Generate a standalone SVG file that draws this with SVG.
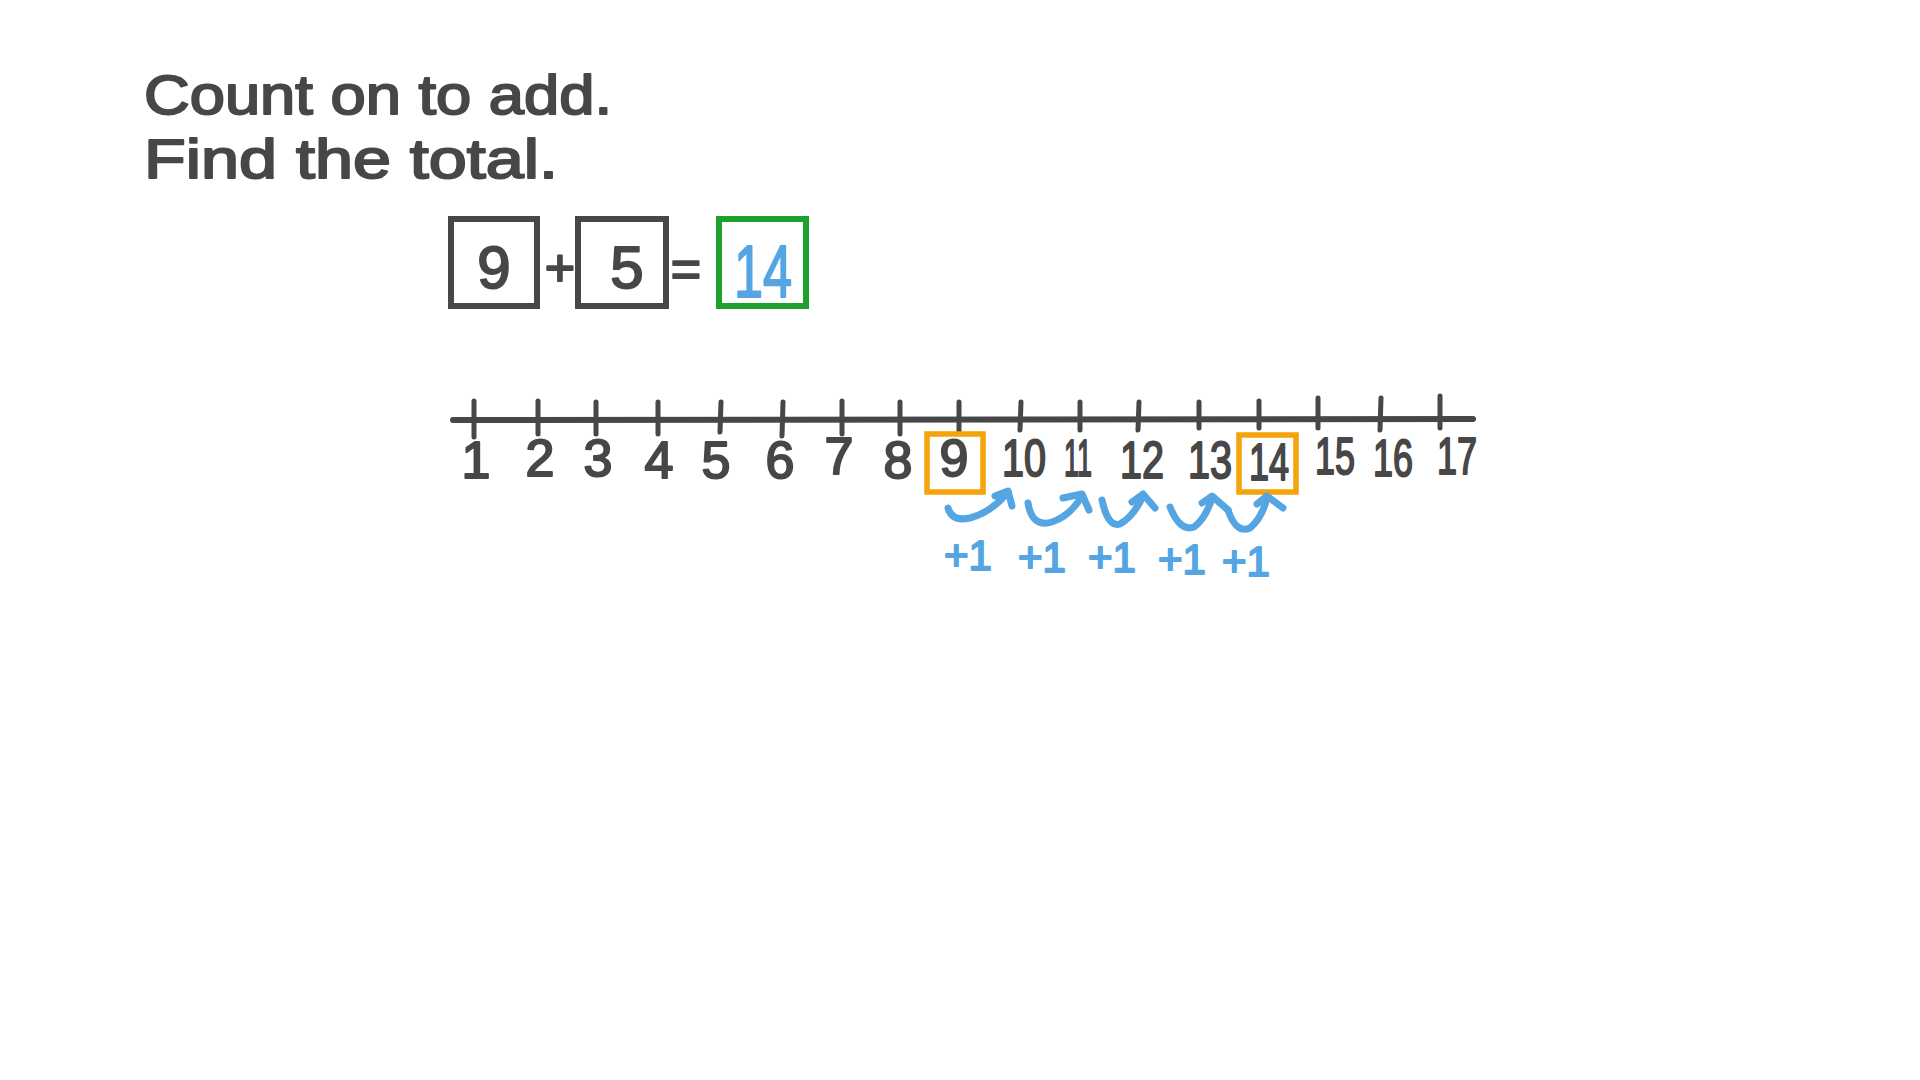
<svg xmlns="http://www.w3.org/2000/svg" width="1920" height="1080" viewBox="0 0 1920 1080">
<style>
.ink{font-family:"Liberation Sans","DejaVu Sans",sans-serif;fill:#474747;stroke:#474747;stroke-width:2;stroke-linejoin:round}
.blue{font-family:"Liberation Sans","DejaVu Sans",sans-serif;fill:#55a5e3;stroke:#55a5e3;stroke-width:2;stroke-linejoin:round}
.box{fill:none;stroke:#474747;stroke-width:6}
.obox{fill:none;stroke:#f5a30a;stroke-width:5.5}
.tick{stroke:#474747;stroke-width:5;stroke-linecap:round}
.arc{fill:none;stroke:#55a5e3;stroke-width:7;stroke-linecap:round;stroke-linejoin:round}
.num{font-size:52px;text-anchor:middle}
</style>
<rect width="1920" height="1080" fill="#ffffff"/>
<g id="title">
<text class="ink" x="144" y="114" font-size="56" textLength="468" lengthAdjust="spacingAndGlyphs">Count on to add.</text>
<text class="ink" x="144" y="178" font-size="56" textLength="414" lengthAdjust="spacingAndGlyphs">Find the total.</text>
</g>
<g id="equation">
<rect class="box" x="451" y="219" width="86" height="87"/>
<text class="ink" x="494" y="288" font-size="60" text-anchor="middle">9</text>
<text class="ink" x="560" y="286" font-size="52" text-anchor="middle">+</text>
<rect class="box" x="578" y="219" width="88" height="87"/>
<text class="ink" x="627" y="288" font-size="60" text-anchor="middle">5</text>
<text class="ink" x="686" y="287" font-size="52" text-anchor="middle">=</text>
<rect x="719" y="219" width="87" height="87" fill="none" stroke="#1ea02d" stroke-width="6"/>
<text class="blue" x="763" y="297" font-size="74" text-anchor="middle" textLength="58" lengthAdjust="spacingAndGlyphs">14</text>
</g>
<g id="number-line">
<line x1="453" y1="420" x2="1473" y2="419" stroke="#474747" stroke-width="6" stroke-linecap="round"/>
<g>
<line class="tick" x1="474" y1="401" x2="474" y2="437"/>
<line class="tick" x1="538" y1="401" x2="538" y2="434"/>
<line class="tick" x1="596" y1="402" x2="596" y2="434"/>
<line class="tick" x1="658" y1="402" x2="658" y2="434"/>
<line class="tick" x1="721" y1="402" x2="720" y2="432"/>
<line class="tick" x1="783" y1="402" x2="782" y2="436"/>
<line class="tick" x1="842" y1="401" x2="842" y2="434"/>
<line class="tick" x1="900" y1="402" x2="900" y2="434"/>
<line class="tick" x1="959" y1="402" x2="959" y2="432"/>
<line class="tick" x1="1021" y1="402" x2="1020" y2="430"/>
<line class="tick" x1="1080" y1="402" x2="1080" y2="430"/>
<line class="tick" x1="1139" y1="402" x2="1138" y2="430"/>
<line class="tick" x1="1199" y1="402" x2="1199" y2="428"/>
<line class="tick" x1="1259" y1="401" x2="1259" y2="428"/>
<line class="tick" x1="1318" y1="398" x2="1318" y2="428"/>
<line class="tick" x1="1381" y1="398" x2="1380" y2="430"/>
<line class="tick" x1="1440" y1="396" x2="1440" y2="428"/>
</g>
<g>
<text class="ink num" x="476" y="478">1</text>
<text class="ink num" x="540" y="476">2</text>
<text class="ink num" x="598" y="476">3</text>
<text class="ink num" x="659" y="478">4</text>
<text class="ink num" x="716" y="478">5</text>
<text class="ink num" x="780" y="478">6</text>
<text class="ink num" x="839" y="474">7</text>
<text class="ink num" x="898" y="478">8</text>
<text class="ink num" x="954" y="476">9</text>
<text class="ink num" x="1024" y="476" textLength="44" lengthAdjust="spacingAndGlyphs">10</text>
<text class="ink num" x="1078" y="476" textLength="28" lengthAdjust="spacingAndGlyphs">11</text>
<text class="ink num" x="1142" y="478" textLength="44" lengthAdjust="spacingAndGlyphs">12</text>
<text class="ink num" x="1210" y="478" textLength="44" lengthAdjust="spacingAndGlyphs">13</text>
<text class="ink num" x="1269" y="480" textLength="40" lengthAdjust="spacingAndGlyphs">14</text>
<text class="ink num" x="1335" y="474" textLength="40" lengthAdjust="spacingAndGlyphs">15</text>
<text class="ink num" x="1393" y="476" textLength="40" lengthAdjust="spacingAndGlyphs">16</text>
<text class="ink num" x="1457" y="474" textLength="40" lengthAdjust="spacingAndGlyphs">17</text>
</g>
</g>
<g id="highlight-9"><rect class="obox" x="927" y="434" width="56" height="58"/></g>
<g id="highlight-14"><rect class="obox" x="1239" y="435" width="57" height="57"/></g>
<g id="connectors">
<path class="arc" d="M948,508 Q952,522 970,518 Q992,512 1008,492"/>
<path class="arc" d="M995,496 L1008,491 L1012,506"/>
<path class="arc" d="M1028,503 Q1032,528 1052,522 Q1070,516 1082,496"/>
<path class="arc" d="M1063,498 L1082,494 L1089,510"/>
<path class="arc" d="M1102,500 Q1108,528 1120,524 Q1134,516 1143,496"/>
<path class="arc" d="M1132,502 L1143,494 L1155,508"/>
<path class="arc" d="M1170,507 Q1180,532 1194,527 Q1206,518 1212,498"/>
<path class="arc" d="M1202,503 L1212,496 L1228,510"/>
<path class="arc" d="M1228,510 Q1236,534 1250,528 Q1262,518 1267,498"/>
<path class="arc" d="M1257,504 L1267,496 L1283,508"/>
</g>
<g id="labels">
<text class="blue" x="968" y="570" font-size="42" text-anchor="middle">+1</text>
<text class="blue" x="1042" y="572" font-size="42" text-anchor="middle">+1</text>
<text class="blue" x="1112" y="572" font-size="42" text-anchor="middle">+1</text>
<text class="blue" x="1182" y="574" font-size="42" text-anchor="middle">+1</text>
<text class="blue" x="1246" y="576" font-size="42" text-anchor="middle">+1</text>
</g>
</svg>
